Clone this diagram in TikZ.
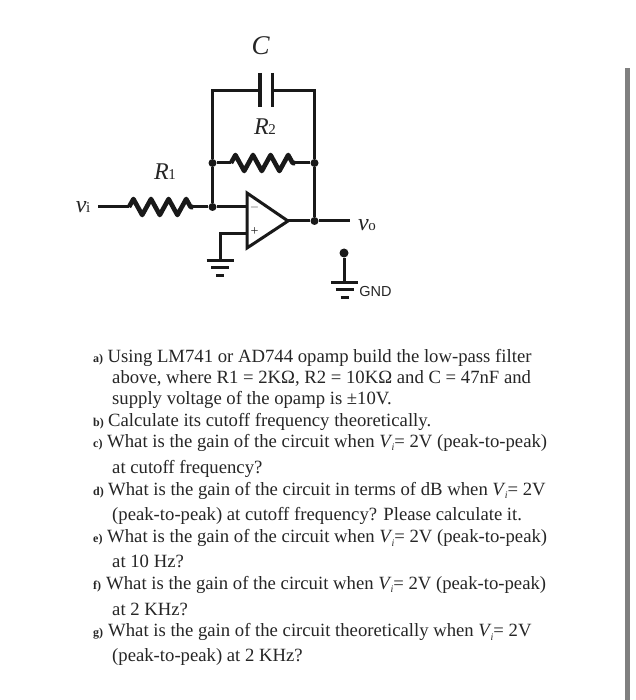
\documentclass[tikz,border=0pt]{standalone}
\usepackage{fontspec}
\setmainfont{Liberation Serif}
\setsansfont{Liberation Sans}
\usetikzlibrary{decorations.pathmorphing}
\tikzset{
	wire/.style={line width=3pt,black!90},
	res/.style={line width=4.6pt,line join=round,black!90,decorate,decoration={zigzag,segment length=17.6pt,amplitude=8pt}},
	dot/.style={circle,fill=black!90,inner sep=0pt,minimum size=8pt},
	lab/.style={inner sep=0pt,black!85},
	line/.style={anchor=base west,inner sep=0pt,black!85,font=\fontsize{18.7}{20}\selectfont},
	tag/.style={anchor=base west,inner sep=0pt,black!85,font=\fontsize{12}{12}\selectfont\bfseries},
	gnd/.pic={
		\draw [wire] (-13.5,0)--(13.5,0);
		\draw [wire] (-9,7.5)--(9,7.5);
		\draw [wire] (-4,15)--(4,15);
	}
}
\newcommand{\Vi}{\textit{V}\kern-0.05em\raisebox{-0.45ex}{\fontsize{10}{10}\selectfont\textit{i}}}
\newcommand{\sym}[2]{\fontsize{24}{24}\selectfont\textit{#1}\kern-0.02em{\fontsize{15}{15}\selectfont #2}}
\begin{document}
\begin{tikzpicture}[x=1pt,y=-1pt]
	\useasboundingbox [fill=white] (0,0) rectangle (635,700);
	\fill [black!50] (624.5,68) rectangle (630,700);
	% feedback wires
	\node (in) at (212.5,207) [dot] {};
	\node (fb) at (212.5,163) [dot] {};
	\node (fbr) at (314.5,163) [dot] {};
	\node (out) at (314.5,221) [dot] {};
	\coordinate (tl) at (212.5,90.5);
	\coordinate (tr) at (314.5,90.5);
	\coordinate (cl) at (260,90.5);
	\coordinate (cr) at (272.5,90.5);
	\draw [wire] (in)--(fb)--(tl)--(cl);
	\draw [wire] (cr)--(tr)--(fbr)--(out);
	\draw [line width=3.5pt,black!90] (260,73)--(260,107);
	\draw [line width=3.5pt,black!90] (272.5,73)--(272.5,107);
	% R2
	\coordinate (r2a) at (231,163);
	\coordinate (r2b) at (295,163);
	\draw [wire] (fb)--(r2a);
	\draw [wire] (r2b)--(fbr);
	\draw [res] (r2a)--(r2b);
	% R1
	\coordinate (vi) at (98,207);
	\coordinate (r1a) at (129,207);
	\coordinate (r1b) at (193,207);
	\draw [wire] (vi)--(r1a);
	\draw [wire] (r1b)--(in);
	\draw [res] (r1a)--(r1b);
	% opamp
	\coordinate (oa) at (247,193);
	\coordinate (ob) at (247,248);
	\coordinate (oc) at (288,221);
	\coordinate (vo) at (350,221);
	\coordinate (pl) at (220,234);
	\coordinate (gl) at (220,260);
	\draw [wire,line join=miter] (oa)--(oc)--(ob)--cycle;
	\draw [wire] (in)--(247,207);
	\draw [wire] (oc)--(out)--(vo);
	\draw [wire] (247,234)--(pl)--(gl);
	\draw (220,260) pic {gnd};
	\node (minus) at (254.5,208) [lab,font=\fontsize{12}{12}\selectfont] {$-$};
	\node (plus) at (254.5,232) [lab,font=\fontsize{14}{14}\selectfont] {+};
	% GND
	\node (gd) at (344,253) [dot,minimum size=9pt] {};
	\coordinate (gb) at (344,282);
	\draw [wire] (gd)--(gb);
	\draw (344.5,282) pic {gnd};
	\node (gndlab) at (375.5,292) [lab,font=\sffamily\fontsize{14.5}{14.5}\selectfont] {GND};
	% labels
	\node (clab) at (260.5,46) [lab,font=\fontsize{27}{27}\selectfont\itshape] {C};
	\node (r2lab) at (265,127) [lab] {\sym{R}{2}};
	\node (r1lab) at (165,172) [lab] {\sym{R}{1}};
	\node (vilab) at (83,207) [lab] {\sym{v}{i}};
	\node (volab) at (367,225) [lab] {\sym{v}{o}};
	% questions
	\node (ta) at (93,362) [tag] {a)};
	\node (la) at (107.5,362) [line] {Using LM741 or AD744 opamp build the low-pass filter};
	\node (lb) at (112,383) [line] {above, where R1 = 2KΩ, R2 = 10KΩ and C = 47nF and};
	\node (lc) at (112,404) [line] {supply voltage of the opamp is ±10V.};
	\node (tb) at (93,426) [tag] {b)};
	\node (ld) at (108,426) [line] {Calculate its cutoff frequency theoretically.};
	\node (tc) at (93,447) [tag] {c)};
	\node (le) at (107,447) [line] {What is the gain of the circuit when \Vi= 2V (peak-to-peak)};
	\node (lf) at (112,473) [line] {at cutoff frequency?};
	\node (td) at (93,495) [tag] {d)};
	\node (lg) at (108,495) [line] {What is the gain of the circuit in terms of dB when \Vi= 2V};
	\node (lh) at (112,520.5) [line] {(peak-to-peak) at cutoff frequency? Please calculate it.};
	\node (te) at (93,542.5) [tag] {e)};
	\node (li) at (107,542.5) [line] {What is the gain of the circuit when \Vi= 2V (peak-to-peak)};
	\node (lj) at (112,567) [line] {at 10 Hz?};
	\node (tf) at (93,589) [tag] {f)};
	\node (lk) at (106,589) [line] {What is the gain of the circuit when \Vi= 2V (peak-to-peak)};
	\node (ll) at (112,615) [line] {at 2 KHz?};
	\node (tg) at (93,636.5) [tag] {g)};
	\node (lm) at (108,636.5) [line] {What is the gain of the circuit theoretically when \Vi= 2V};
	\node (ln) at (112,661.5) [line] {(peak-to-peak) at 2 KHz?};
\end{tikzpicture}
\end{document}
